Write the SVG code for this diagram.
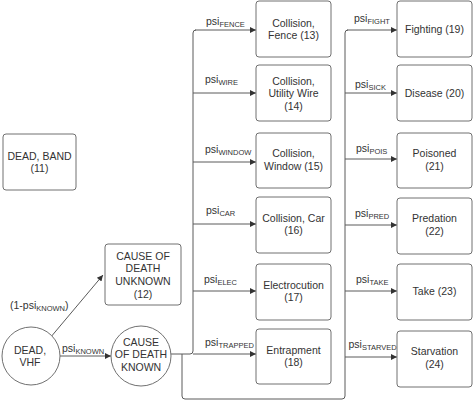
<svg xmlns="http://www.w3.org/2000/svg" width="474" height="401" viewBox="0 0 474 401">
<style>
.box{fill:#fff;stroke:#707070;stroke-width:1}
.t{font-family:"Liberation Sans",Arial,sans-serif;font-size:10.5px;fill:#333;text-anchor:middle}
.l{font-family:"Liberation Sans",Arial,sans-serif;font-size:10.5px;fill:#333}
.s{font-size:7.5px}
.c{fill:none;stroke:#5a5a5a;stroke-width:1}
.a{fill:none;stroke:#5a5a5a;stroke-width:1;marker-end:url(#ah)}
</style>
<defs>
<marker id="ah" viewBox="0 0 10 10" refX="10" refY="5" markerWidth="8" markerHeight="6" markerUnits="userSpaceOnUse" orient="auto">
<path d="M0,0 L10,5 L0,10 z" fill="#333"/>
</marker>
</defs>
<rect width="474" height="401" fill="#fff"/>

<g id="connectors">
<path class="c" d="M171,354 H190 Q193,354 193,351 V33 Q193,30 196,30"/>
<path class="a" d="M195,30 H256"/>
<path class="a" d="M193,93 H256"/>
<path class="a" d="M193,162 H256"/>
<path class="a" d="M193,224 H256"/>
<path class="a" d="M193,291 H256"/>
<path class="a" d="M193,354 H256"/>
<path class="c" d="M182,354 V396 Q182,399 185,399 H342 Q345,399 345,396 V33 Q345,30 348,30"/>
<path class="a" d="M347,30 H397"/>
<path class="a" d="M345,93 H397"/>
<path class="a" d="M345,159 H397"/>
<path class="a" d="M345,225 H397"/>
<path class="a" d="M345,291 H397"/>
<path class="a" d="M345,357 H397"/>
<path class="a" d="M60,356 H111"/>
<path class="a" d="M50,338 L103,275"/>
<text class="l" x="206" y="25">psi<tspan class="s" dy="1.5">FENCE</tspan></text>
<text class="l" x="205" y="83">psi<tspan class="s" dy="1.5">WIRE</tspan></text>
<text class="l" x="205" y="153">psi<tspan class="s" dy="1.5">WINDOW</tspan></text>
<text class="l" x="206" y="214">psi<tspan class="s" dy="1.5">CAR</tspan></text>
<text class="l" x="204" y="283">psi<tspan class="s" dy="1.5">ELEC</tspan></text>
<text class="l" x="205" y="346">psi<tspan class="s" dy="1.5">TRAPPED</tspan></text>
<text class="l" x="354" y="22">psi<tspan class="s" dy="1.5">FIGHT</tspan></text>
<text class="l" x="355" y="88">psi<tspan class="s" dy="1.5">SICK</tspan></text>
<text class="l" x="356" y="152">psi<tspan class="s" dy="1.5">POIS</tspan></text>
<text class="l" x="355" y="217">psi<tspan class="s" dy="1.5">PRED</tspan></text>
<text class="l" x="356" y="283">psi<tspan class="s" dy="1.5">TAKE</tspan></text>
<text class="l" x="348.5" y="348">psi<tspan class="s" dy="1.5">STARVED</tspan></text>
<text class="l" x="62" y="352">psi<tspan class="s" dy="1.5">KNOWN</tspan></text>
<text class="l" x="10" y="309">(1-psi<tspan class="s" dy="1.5">KNOWN</tspan><tspan dy="-1.5">)</tspan></text>
</g>

<g id="n11"><rect class="box" x="3" y="134" width="73" height="56" rx="3"/>
<text class="t" x="39.5" y="159.5">DEAD, BAND</text><text class="t" x="39.5" y="172">(11)</text></g>

<g id="n12"><rect class="box" x="105" y="244" width="76" height="61" rx="3"/>
<text class="t" x="143" y="259.5">CAUSE OF</text><text class="t" x="143" y="272.2">DEATH</text><text class="t" x="143" y="284.9">UNKNOWN</text><text class="t" x="143" y="297.6">(12)</text></g>

<g id="vhf"><circle class="box" cx="31" cy="356" r="29"/>
<text class="t" x="30" y="353.5">DEAD,</text><text class="t" x="30" y="366">VHF</text></g>

<g id="known"><circle class="box" cx="141" cy="356" r="30"/>
<text class="t" x="141" y="346">CAUSE</text><text class="t" x="141" y="358.3">OF DEATH</text><text class="t" x="141" y="370.6">KNOWN</text></g>

<g id="n13"><rect class="box" x="256" y="1" width="75" height="56" rx="3"/>
<text class="t" x="293.5" y="26.5">Collision,</text><text class="t" x="293.5" y="39">Fence (13)</text></g>
<g id="n14"><rect class="box" x="256" y="65" width="75" height="56" rx="3"/>
<text class="t" x="293.5" y="84.5">Collision,</text><text class="t" x="293.5" y="97">Utility Wire</text><text class="t" x="293.5" y="109.5">(14)</text></g>
<g id="n15"><rect class="box" x="256" y="133" width="75" height="55" rx="3"/>
<text class="t" x="293.5" y="157">Collision,</text><text class="t" x="293.5" y="169.5">Window (15)</text></g>
<g id="n16"><rect class="box" x="256" y="197" width="75" height="56" rx="3"/>
<text class="t" x="293.5" y="221.5">Collision, Car</text><text class="t" x="293.5" y="234">(16)</text></g>
<g id="n17"><rect class="box" x="256" y="264" width="75" height="56" rx="3"/>
<text class="t" x="293.5" y="288.5">Electrocution</text><text class="t" x="293.5" y="301">(17)</text></g>
<g id="n18"><rect class="box" x="256" y="329" width="75" height="55" rx="3"/>
<text class="t" x="293.5" y="353.5">Entrapment</text><text class="t" x="293.5" y="366">(18)</text></g>

<g id="n19"><rect class="box" x="397" y="1" width="75" height="56" rx="3"/>
<text class="t" x="434.5" y="32.5">Fighting (19)</text></g>
<g id="n20"><rect class="box" x="397" y="65" width="75" height="56" rx="3"/>
<text class="t" x="434.5" y="96.5">Disease (20)</text></g>
<g id="n21"><rect class="box" x="397" y="133" width="75" height="55" rx="3"/>
<text class="t" x="434.5" y="157">Poisoned</text><text class="t" x="434.5" y="169.5">(21)</text></g>
<g id="n22"><rect class="box" x="397" y="198" width="75" height="56" rx="3"/>
<text class="t" x="434.5" y="222">Predation</text><text class="t" x="434.5" y="234.5">(22)</text></g>
<g id="n23"><rect class="box" x="397" y="264" width="75" height="56" rx="3"/>
<text class="t" x="434.5" y="295">Take (23)</text></g>
<g id="n24"><rect class="box" x="397" y="331" width="75" height="56" rx="3"/>
<text class="t" x="434.5" y="355">Starvation</text><text class="t" x="434.5" y="367.5">(24)</text></g>
</svg>
